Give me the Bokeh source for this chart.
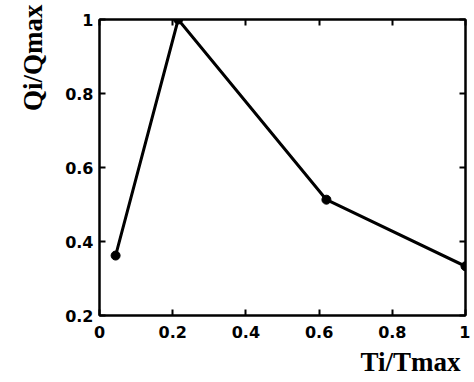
from bokeh.plotting import figure
from bokeh.models import Range1d, FixedTicker, CustomJSTickFormatter, LinearAxis, Title
from bokeh.embed import file_html
from bokeh.resources import INLINE

x_vals = [0.044, 0.215, 0.62, 1.0]
y_vals = [0.362, 1.0, 0.513, 0.333]
x_ticks = [0, 0.2, 0.4, 0.6, 0.8, 1]
y_ticks = [0.2, 0.4, 0.6, 0.8, 1]
x_title = "Ti/Tmax"
y_title = "Qi/Qmax"

p = figure(width=470, height=380, output_backend="svg", toolbar_location=None,
           x_range=Range1d(0, 1), y_range=Range1d(0.2, 1),
           min_border_left=40, min_border_right=5, min_border_top=19, min_border_bottom=10)
p.grid.visible = False
p.background_fill_color = "white"
p.border_fill_color = "white"
p.outline_line_color = "black"
p.outline_line_width = 2

fmt = CustomJSTickFormatter(code="return String(Math.round(tick*10)/10)")

for ax, ticks in ((p.xaxis[0], x_ticks), (p.yaxis[0], y_ticks)):
    ax.ticker = FixedTicker(ticks=ticks)
    ax.formatter = fmt
    ax.axis_line_color = "black"
    ax.axis_line_width = 2
    ax.major_tick_in = 6
    ax.major_tick_out = 0
    ax.major_tick_line_width = 2
    ax.minor_tick_line_color = None
    ax.major_label_text_font = "DejaVu Sans"
    ax.major_label_text_font_style = "bold"
    ax.major_label_text_font_size = "16px"
    ax.major_label_text_color = "black"
p.xaxis[0].major_label_standoff = 10
p.yaxis[0].major_label_standoff = 6

for loc, ticks in (("right", y_ticks), ("above", x_ticks)):
    ax = LinearAxis(ticker=FixedTicker(ticks=ticks), formatter=fmt)
    ax.axis_line_color = "black"
    ax.axis_line_width = 2
    ax.major_tick_in = 6
    ax.major_tick_out = 0
    ax.major_tick_line_width = 2
    ax.minor_tick_line_color = None
    ax.major_label_text_color = None
    ax.major_label_text_font_size = "1px"
    ax.major_label_standoff = 0
    p.add_layout(ax, loc)

p.line(x_vals, y_vals, line_color="black", line_width=3)
p.scatter(x_vals, y_vals, size=9, fill_color="black", line_color="black")

p.add_layout(Title(text=x_title, align="right", offset=5, standoff=8,
                   text_font="Liberation Serif", text_font_style="bold",
                   text_font_size="27px", text_color="black"), "below")
p.add_layout(Title(text=y_title, align="right", offset=-15, standoff=30,
                   text_font="Liberation Serif", text_font_style="bold",
                   text_font_size="27px", text_color="black"), "left")

open("out.html", "w").write(file_html(p, INLINE))
